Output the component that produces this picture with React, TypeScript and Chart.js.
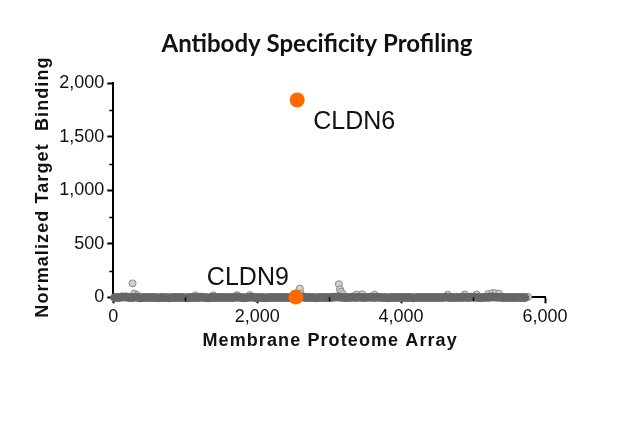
import React, { useEffect, useRef } from 'react';
import { Chart, registerables } from 'chart.js';

Chart.register(...registerables);

// ---- data ----
const TITLE = 'Antibody Specificity Profiling';
const X_TITLE = 'Membrane Proteome Array';
const Y_TITLE = 'Normalized Target  Binding';

const X_MIN = 0;
const X_MAX = 6000;
const X_STEP = 2000;
const X_MINOR = [1000, 3000, 5000];
const Y_MIN = 0;
const Y_MAX = 2000;
const Y_STEP = 500;
const Y_MINOR = [250, 750, 1250, 1750];

// highlighted hits
const HIT_LABELS = ['CLDN6', 'CLDN9'];
const HIT_INDEX = [2556, 2537];
const HIT_BINDING = [1845, 3];

// bulk of the array (near-zero binding)
const BAND_INDEX = [
  20, 70, 120, 170, 220, 270, 320, 370, 420, 470,
  520, 570, 620, 670, 720, 770, 820, 870, 920, 970,
  1020, 1070, 1120, 1170, 1220, 1270, 1320, 1370, 1420, 1470,
  1520, 1570, 1620, 1670, 1720, 1770, 1820, 1870, 1920, 1970,
  2020, 2070, 2120, 2170, 2220, 2270, 2320, 2370, 2420, 2470,
  2520, 2570, 2620, 2670, 2720, 2770, 2820, 2870, 2920, 2970,
  3020, 3070, 3120, 3170, 3220, 3270, 3320, 3370, 3420, 3470,
  3520, 3570, 3620, 3670, 3720, 3770, 3820, 3870, 3920, 3970,
  4020, 4070, 4120, 4170, 4220, 4270, 4320, 4370, 4420, 4470,
  4520, 4570, 4620, 4670, 4720, 4770, 4820, 4870, 4920, 4970,
  5020, 5070, 5120, 5170, 5220, 5270, 5320, 5370, 5420, 5470,
  5520, 5570, 5620, 5670, 5720,
];
const BAND_BINDING = [
  -3, -2, 2, 3, -2, -3, 1, -4, -3, -1,
  -3, -2, -4, -2, -3, -4, -2, -3, -1, -3,
  -4, -2, -3, -2, 0, -3, -4, -2, -3, -2,
  -3, -1, -3, -2, 1, -3, -4, -1, 1, -2,
  -3, -2, -4, -2, -3, -1, -3, -2, -2, -4,
  -3, 1, 2, -2, -3, -2, -4, -1, -3, -2,
  -3, 1, 3, 0, -2, -3, 0, -2, 1, -3,
  -1, 0, -2, 1, -3, -2, -4, -2, -1, -3,
  -3, -2, -3, -4, -1, -2, -3, -2, -3, -2,
  -1, -3, 1, -2, -3, -1, -2, 0, -3, 0,
  1, -2, -3, -1, 0, 2, 1, 0, -2, -3,
  -2, -3, -1, -2, -3,
];

// proteins with slightly elevated binding
const ELEV_INDEX = [268, 290, 330, 1140, 1390, 1720, 1900, 2580, 2593, 2605, 3135, 3150, 3165, 3190, 3380, 3460, 3630, 4650, 4885, 5050, 5210, 5270, 5310, 5360, 5765];
const ELEV_BINDING = [130, 35, 22, 18, 18, 20, 20, 55, 82, 35, 122, 75, 52, 30, 26, 28, 24, 24, 26, 26, 30, 40, 38, 34, 3];

const SANS = '"Liberation Sans", Arial, sans-serif';

const toPoints = (xs: number[], ys: number[]) => xs.map((x, i) => ({ x, y: ys[i] }));

const decorPlugin = {
  id: 'decor',
  afterDraw(chart: any) {
    const ctx = chart.ctx;
    const xs = chart.scales.x;
    const ys = chart.scales.y;
    const area = chart.chartArea;
    ctx.save();
    // minor ticks
    ctx.strokeStyle = '#000';
    ctx.lineWidth = 1.5;
    ctx.beginPath();
    Y_MINOR.forEach((v) => {
      const py = Math.round(ys.getPixelForValue(v)) + 0.5;
      ctx.moveTo(area.left - 4, py);
      ctx.lineTo(area.left, py);
    });
    X_MINOR.forEach((v) => {
      const px = Math.round(xs.getPixelForValue(v)) + 0.5;
      ctx.moveTo(px, area.bottom);
      ctx.lineTo(px, area.bottom + 4);
    });
    ctx.stroke();

    // chart title
    ctx.fillStyle = '#111';
    ctx.font = 'bold 24px Lato, sans-serif';
    ctx.textAlign = 'center';
    ctx.textBaseline = 'middle';
    ctx.fillText(TITLE, 317, 44);

    // hit labels
    ctx.font = `25px ${SANS}`;
    HIT_LABELS.forEach((label, i) => {
      const px = xs.getPixelForValue(HIT_INDEX[i]);
      const py = ys.getPixelForValue(HIT_BINDING[i]);
      if (i === 0) {
        ctx.textAlign = 'left';
        ctx.fillText(label, px + 16, py + 22);
      } else {
        ctx.textAlign = 'right';
        ctx.fillText(label, px - 7, py - 19);
      }
    });

    // axis titles
    ctx.font = `bold 18px ${SANS}`;
    (ctx as any).letterSpacing = '1.1px';
    ctx.textAlign = 'center';
    ctx.textBaseline = 'middle';
    ctx.fillText(X_TITLE, (area.left + area.right) / 2 + 1, 341);
    ctx.translate(43, 188);
    ctx.rotate(-Math.PI / 2);
    ctx.fillText(Y_TITLE, 1, 0);
    ctx.restore();
  },
};

export default function App() {
  const ref = useRef<HTMLCanvasElement | null>(null);

  useEffect(() => {
    if (!ref.current) return;
    const chart = new Chart(ref.current, {
      type: 'scatter',
      data: {
        datasets: [
          {
            label: 'hits',
            data: toPoints(HIT_INDEX, HIT_BINDING),
            backgroundColor: '#ff6a00',
            borderWidth: 0,
            pointRadius: 7.5,
            order: 0,
            clip: false as any,
          },
          {
            label: 'array',
            data: toPoints(BAND_INDEX, BAND_BINDING),
            backgroundColor: '#666666',
            borderWidth: 0,
            pointRadius: 4.5,
            order: 1,
            clip: false as any,
          },
          {
            label: 'elevated',
            data: toPoints(ELEV_INDEX, ELEV_BINDING),
            backgroundColor: '#d2d2d2',
            borderColor: '#8a8a8a',
            borderWidth: 1,
            pointRadius: 3.5,
            order: 2,
            clip: false as any,
          },
        ],
      },
      options: {
        animation: false,
        responsive: true,
        maintainAspectRatio: false,
        layout: { padding: { left: 0, right: 95, top: 83.3, bottom: 0 } },
        plugins: {
          legend: { display: false },
          tooltip: { enabled: false },
          title: { display: false },
        },
        scales: {
          x: {
            type: 'linear',
            min: X_MIN,
            max: X_MAX,
            afterFit: (s: any) => { s.height = 427 - 297.3; },
            ticks: {
              stepSize: X_STEP,
              color: '#111',
              font: { family: SANS, size: 18 },
              padding: 3,
              maxRotation: 0,
            },
            grid: {
              drawOnChartArea: false,
              drawTicks: true,
              tickLength: 6,
              tickColor: '#000',
              tickWidth: 2,
            },
            border: { display: true, color: '#000', width: 2 },
          },
          y: {
            type: 'linear',
            min: Y_MIN,
            max: Y_MAX,
            afterFit: (s: any) => { s.width = 113.3; },
            ticks: {
              stepSize: Y_STEP,
              color: '#111',
              font: { family: SANS, size: 18 },
              padding: 3,
            },
            grid: {
              drawOnChartArea: false,
              drawTicks: true,
              tickLength: 6,
              tickColor: '#000',
              tickWidth: 2,
            },
            border: { display: true, color: '#000', width: 2 },
          },
        },
      },
      plugins: [decorPlugin],
    } as any);
    return () => chart.destroy();
  }, []);

  return (
    <div style={{ position: 'fixed', left: 0, top: 0, width: 640, height: 427, background: '#fff' }}>
      <canvas ref={ref} />
    </div>
  );
}
